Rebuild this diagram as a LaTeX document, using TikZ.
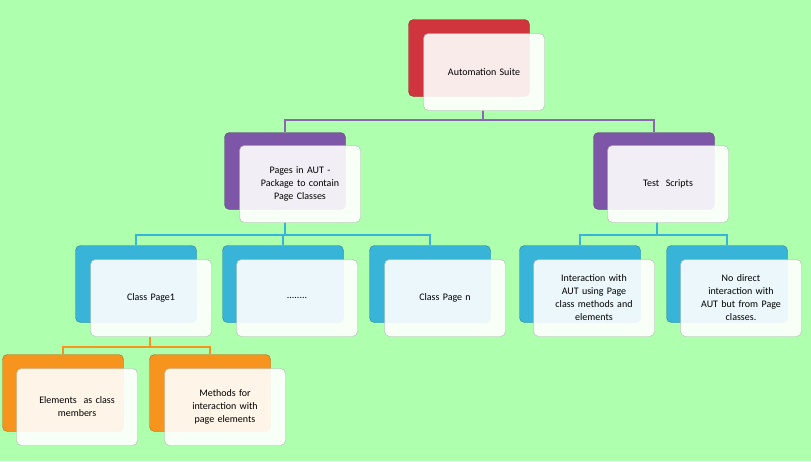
\documentclass[tikz,border=0pt]{standalone}
\usepackage{fontspec}
\setmainfont{Carlito}
\begin{document}
\begin{tikzpicture}[x=1pt,y=-1pt]
    \tikzset{
      back/.style={rounded corners=5pt, minimum width=121pt, minimum height=77pt, draw=#1!70!black, fill=#1},
      front/.style={rounded corners=5pt, minimum width=121pt, minimum height=77pt, draw=gray!60, fill=white, fill opacity=0.9, text opacity=1, align=center, text width=100pt, font=\fontsize{10}{13}\selectfont},
      link/.style={line width=2pt, draw=#1}
    }
    \definecolor{bg}{HTML}{AEFFAE}
    \definecolor{redbox}{HTML}{D0343C}
    \definecolor{purplebox}{HTML}{7E56A8}
    \definecolor{bluebox}{HTML}{38B4D8}
    \definecolor{orangebox}{HTML}{F7941D}
    \fill[bg] (0,0) rectangle (811,461);
    \useasboundingbox (0,0) rectangle (811,461);

    % back boxes
    \node (as) [back=redbox] at (469,58) {};
    \node (pg) [back=purplebox] at (285,171) {};
    \node (ts) [back=purplebox] at (654,171) {};
    \node (c1) [back=bluebox] at (136,284) {};
    \node (cd) [back=bluebox] at (283,284) {};
    \node (cn) [back=bluebox] at (430,284) {};
    \node (ia) [back=bluebox] at (580,284) {};
    \node (nd) [back=bluebox] at (727,284) {};
    \node (el) [back=orangebox] at (63,393) {};
    \node (me) [back=orangebox] at (210,393) {};

    % connectors
    \draw[link=purplebox!90] (as.south) ++(14,12) -- ++(0,11) coordinate (j1);
    \draw[link=purplebox!90] (pg.north) |- (j1) -| (ts.north);
    \draw[link=bluebox] (pg.south) ++(0,12) |- ++(0,13) coordinate (j2);
    \draw[link=bluebox] (c1.north) |- (j2) -| (cn.north);
    \draw[link=bluebox] (cd.north) -- (cd.north |- j2);
    \draw[link=bluebox] (ts.south) ++(3,12) -- ++(0,13) coordinate (j3);
    \draw[link=bluebox] (ia.north) |- (j3) -| (nd.north);
    \draw[link=orangebox] (c1.south) ++(14,14) -- ++(0,10) coordinate (j4);
    \draw[link=orangebox] (el.north) |- (j4) -| (me.north);

    % front boxes
    \node (asf) [front] at (484,72) {Automation Suite};
    \node (pgf) [front] at (300,184) {Pages in AUT -\\ Package to contain\\ Page Classes};
    \node (tsf) [front] at (668,184) {Test\ \ Scripts};
    \node (c1f) [front] at (151,298) {Class Page1};
    \node (cdf) [front] at (297,298) {........};
    \node (cnf) [front] at (445,298) {Class Page n};
    \node (iaf) [front] at (594,298) {Interaction with\\ AUT using Page\\ class methods and\\ elements};
    \node (ndf) [front] at (741,298) {No direct\\ interaction with\\ AUT but from Page\\ classes.};
    \node (elf) [front] at (77,407) {Elements\ \ as class\\ members};
    \node (mef) [front] at (225,407) {Methods for\\ interaction with\\ page elements};
\end{tikzpicture}
\end{document}
